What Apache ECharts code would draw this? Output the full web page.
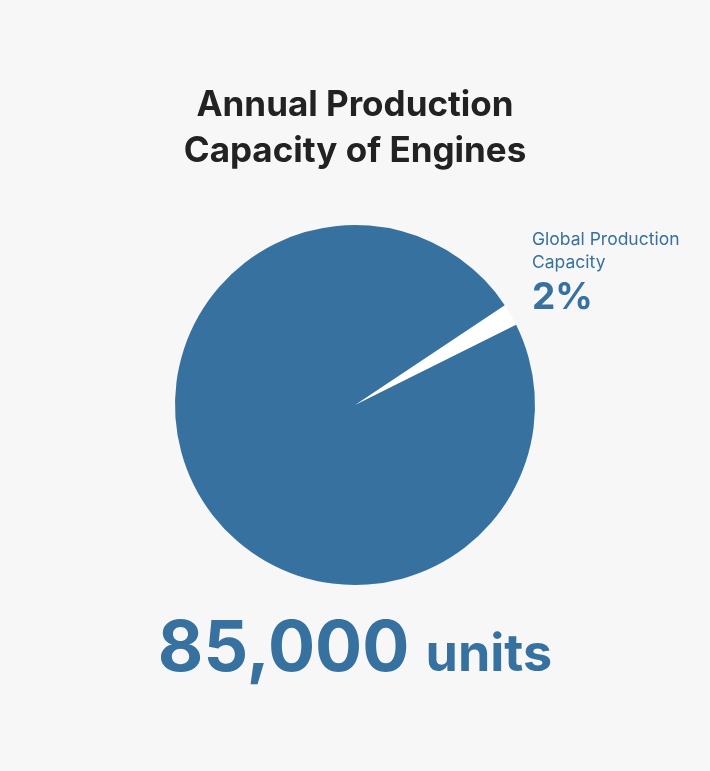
<!DOCTYPE html>
<html><head><meta charset="utf-8">
<script src="https://cdn.jsdelivr.net/npm/echarts@6/dist/echarts.min.js"></script>
<style>html,body{margin:0;padding:0;background:#f7f7f7}#c{width:710px;height:771px}</style>
</head><body><div id="c"></div>
<script>
const categories = ["Global Production Capacity", "Other"];
const shares = [2, 98];
const totalUnits = "85,000";
const unitLabel = "units";
const titleText = "Annual Production\nCapacity of Engines";
const sliceColors = ["#ffffff", "#36719f"];

const chart = echarts.init(document.getElementById('c'));
chart.setOption({
  backgroundColor: '#f7f7f7',
  textStyle: { fontFamily: 'Inter' },
  title: [
    { text: titleText, left: 'center', top: 77,
      textStyle: { fontFamily: 'Inter', fontSize: 35, fontWeight: 'bold', color: '#222222', lineHeight: 46 } },
    { text: '{a|' + totalUnits + '}{s| }{b|' + unitLabel + '}', left: 'center', top: 610,
      textStyle: { rich: {
        a: { fontFamily: 'Inter', fontSize: 70, fontWeight: 'bold', color: '#36719f' },
        s: { fontSize: 20, width: 16 },
        b: { fontFamily: 'Inter', fontSize: 52, fontWeight: 'bold', color: '#36719f', padding: [10,0,0,0] }
      } } }
  ],
  series: [{
    type: 'pie',
    center: [355, 405],
    radius: [0, 180],
    startAngle: 33.7,
    clockwise: true,
    silent: true,
    data: categories.map((n, i) => ({
      name: n, value: shares[i],
      itemStyle: { color: sliceColors[i] },
      label: i === 0 ? {
        show: true, position: 'outside', overflow: 'none', width: 220,
        formatter: function (p) {
          const words = p.name.split(' ');
          return '{n|' + words.slice(0, 2).join(' ') + '}\n{n|' + words.slice(2).join(' ') + '}\n{p|' + Math.round(p.percent) + '%}';
        },
        rich: {
          n: { fontFamily: 'Inter', fontSize: 17.5, color: '#36719f', lineHeight: 23 },
          p: { fontFamily: 'Inter', fontSize: 37, fontWeight: 'bold', color: '#36719f', lineHeight: 48 }
        }
      } : { show: false },
      labelLine: { show: false }
    })),
    labelLayout: function () { return { x: 532, y: 275, align: 'left', verticalAlign: 'middle' }; }
  }]
});
</script></body></html>
